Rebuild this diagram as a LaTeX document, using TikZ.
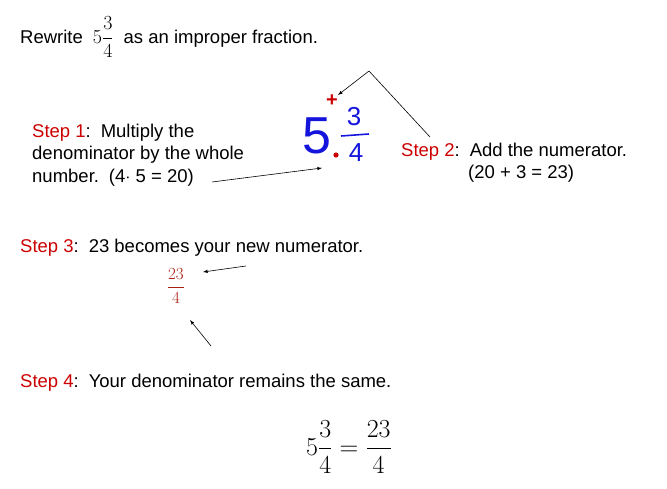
\RequirePackage{fix-cm}
\documentclass[tikz,border=0pt]{standalone}
\usepackage{amsmath}
\usepackage{fontspec}
\setmainfont{Liberation Sans}
\usepackage{tikz}
\definecolor{stepred}{RGB}{204,0,0}
\definecolor{fracred}{RGB}{170,30,20}
\definecolor{penblue}{RGB}{20,20,220}
\tikzset{txt/.style={anchor=west,inner sep=0pt,font=\fontsize{18.5}{22.5}\selectfont},
  arr/.style={-latex,line width=0.6pt}}
\begin{document}
\begin{tikzpicture}[x=1pt,y=-1pt]
    \useasboundingbox (0,0) rectangle (667,489);
    \node[txt] (rw) at (20,37) {Rewrite\hspace{10pt}{\fontsize{20}{20}\selectfont$\displaystyle 5\frac{3}{4}$}\hspace{10pt}as an improper fraction.};
    \node[txt,align=left] (s1) at (32,155) {\textcolor{stepred}{Step 1}:\, Multiply the\\denominator by the whole\\number.\, (4$\cdot$ 5 = 20)};
    % handwritten mixed number
    \node[penblue,font=\fontsize{52}{52}\selectfont] (five) at (317,136) {5};
    \node[penblue,font=\fontsize{26}{26}\selectfont] (num) at (354,117) {3};
    \node[penblue,font=\fontsize{26}{26}\selectfont] (den) at (356,153) {4};
    \draw[penblue,line width=1.6pt] (341,136) -- (369,134);
    \node[stepred,font=\bfseries\fontsize{20}{20}\selectfont] (plus) at (332,101) {+};
    \fill[stepred] (336,155) circle (2.6);
    \node[txt,align=left] (s2) at (401,152) {\textcolor{stepred}{Step 2}:\, Add the numerator.};
    \node[txt] (s2b) at (468,174) {(20 + 3 = 23)};
    \coordinate (apex) at (369,71);
    \coordinate (s1tail) at (212,182);
    \draw[arr] (apex) -- (338,95);
    \draw[line width=0.6pt] (apex) -- (430,137);
    \draw[arr] (s1tail) -- (322,168);
    \node[txt] (s3) at (20,248) {\textcolor{stepred}{Step 3}:\, 23 becomes your new numerator.};
    \node[fracred,font=\fontsize{17}{17}\selectfont] (nfrac) at (176,286) {$\displaystyle\frac{23}{4}$};
    \coordinate (t3) at (246,266);
    \coordinate (t4) at (211,346);
    \draw[arr] (t3) -- (203,272);
    \draw[arr] (t4) -- (190,320);
    \node[txt] (s4) at (20,383) {\textcolor{stepred}{Step 4}:\, Your denominator remains the same.};
    \node[font=\fontsize{26}{26}\selectfont] (eq) at (349,447) {$\displaystyle 5\frac{3}{4}=\frac{23}{4}$};
\end{tikzpicture}
\end{document}
